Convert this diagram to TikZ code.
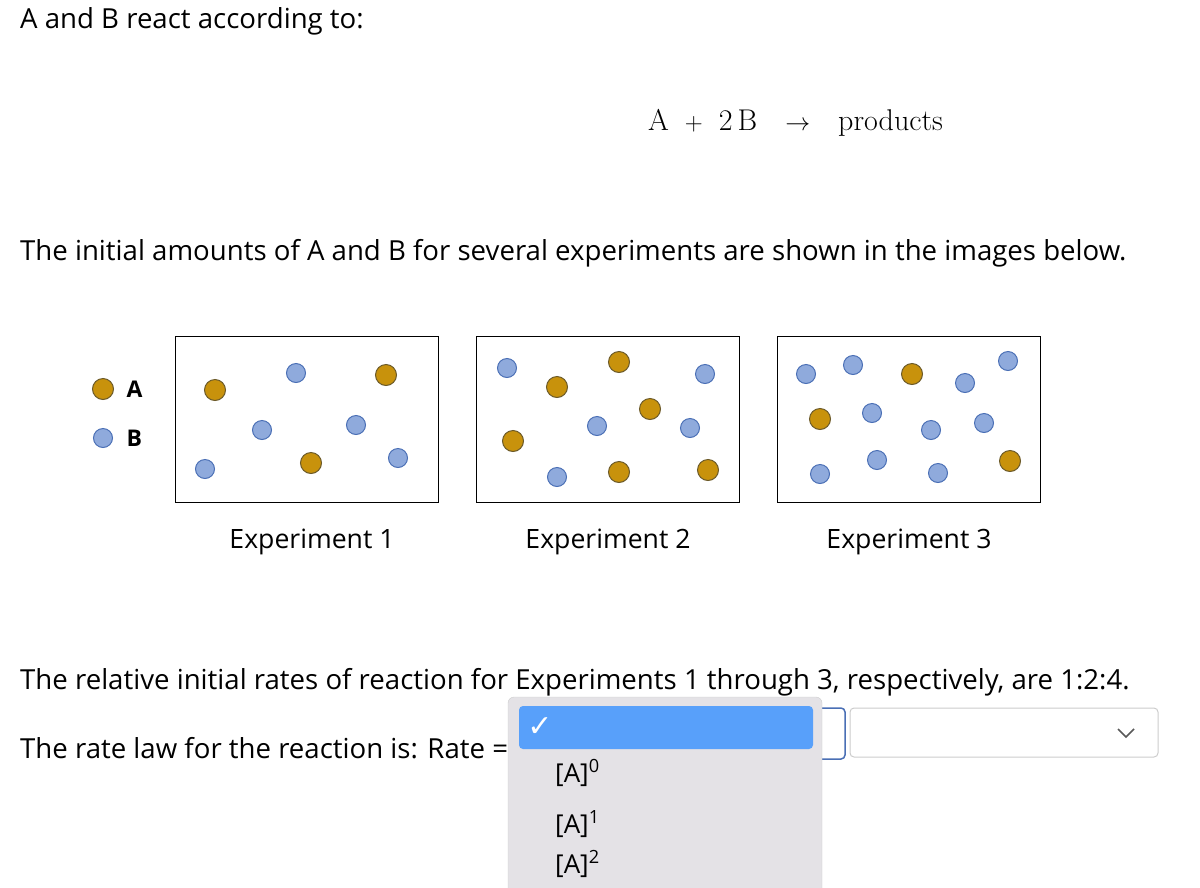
\documentclass[tikz,border=0pt]{standalone}
\usepackage{fontspec}
\setmainfont{Open Sans}
\newfontfamily\lmfont{Latin Modern Roman}
\newfontfamily\symfont{DejaVu Sans}
\definecolor{gold}{HTML}{C8920C}
\definecolor{goldline}{HTML}{6B5A2A}
\definecolor{blueb}{HTML}{8FAADC}
\definecolor{bline}{HTML}{4A6FB5}
\definecolor{menu}{HTML}{E4E2E6}
\definecolor{hl}{HTML}{58A0FA}
\begin{document}
\begin{tikzpicture}[x=1pt,y=-1pt,
  txt/.style={anchor=base west,inner sep=0pt,font=\fontsize{27.6}{32}\selectfont},
  lab/.style={anchor=base,inner sep=0pt,font=\fontsize{26.6}{30}\selectfont},
  itm/.style={anchor=base west,inner sep=0pt,font=\fontsize{26}{30}\selectfont},
  ga/.style={circle,fill=gold,draw=goldline,line width=1pt,minimum size=21pt,inner sep=0pt},
  gb/.style={circle,fill=blueb,draw=bline,line width=1pt,minimum size=19pt,inner sep=0pt},
  box/.style={draw,line width=1pt}]
\useasboundingbox (0,0) rectangle (1200,887);
\node[txt] (t1) at (20,28) {A and B react according to:};
\node[anchor=base west,inner sep=0pt,font=\lmfont\fontsize{30}{34}\selectfont] (eq) at (648,130) {A\hspace{16pt}$+$\hspace{16pt}2\,B\hspace{28pt}$\rightarrow$\hspace{28pt}products};
\node[txt] (t2) at (20,260) {The initial amounts of A and B for several experiments are shown in the images below.};
% legend
\node[ga] (la) at (103,389) {};
\node[anchor=west,font=\bfseries\fontsize{23}{26}\selectfont] (lat) at (123,389) {A};
\node[gb] (lb) at (103,438) {};
\node[anchor=west,font=\bfseries\fontsize{23}{26}\selectfont] (lbt) at (123,438) {B};
% boxes
\draw[box] (175,336) rectangle (438,502);
\draw[box] (476,336) rectangle (739,502);
\draw[box] (777,336) rectangle (1040,502);
\foreach \x/\y [count=\i] in {215/390,386/375,311/463} \node[ga] (a1\i) at (\x,\y) {};
\foreach \x/\y [count=\i] in {296/373,262/430,356/425,205/469,398/458} \node[gb] (b1\i) at (\x,\y) {};
\foreach \x/\y [count=\i] in {619/362,557/387,650/409,513/441,619/472,708/470} \node[ga] (a2\i) at (\x,\y) {};
\foreach \x/\y [count=\i] in {507/368,705/374,597/426,690/428,557/477} \node[gb] (b2\i) at (\x,\y) {};
\foreach \x/\y [count=\i] in {912/374,820/419,1010/461} \node[ga] (a3\i) at (\x,\y) {};
\foreach \x/\y [count=\i] in {806/374,853/365,965/383,1008/361,872/413,931/430,984/423,820/474,877/460,938/473} \node[gb] (b3\i) at (\x,\y) {};
\node[lab] (e1) at (312,548) {Experiment 1};
\node[lab] (e2) at (608,548) {Experiment 2};
\node[lab] (e3) at (909,548) {Experiment 3};
\node[txt] (t3) at (20,689) {The relative initial rates of reaction for Experiments 1 through 3, respectively, are 1:2:4.};
\node[txt] (t4) at (20,758) {The rate law for the reaction is: Rate =};
% second dropdown
\draw[draw=gray!40,line width=1pt,rounded corners=4pt,fill=white] (850,708) rectangle (1158,757);
\draw[gray!70!black,line width=1.5pt] (1118,729) -- (1126,737) -- (1134,729);
% first select (hidden behind menu)
\draw[draw=bline,line width=1.5pt,rounded corners=4pt,fill=white] (700,708) rectangle (845,759);
% menu
\fill[menu,rounded corners=6pt] (508,697) rectangle (822,900);
\draw[gray!40,rounded corners=6pt] (508,697) rectangle (822,900);
\fill[hl,rounded corners=4pt] (519,706) rectangle (813,749);
\node[anchor=center,text=white,font=\symfont\bfseries\fontsize{30}{34}\selectfont] (ck) at (540,727) {✓};
\node[itm] (m0) at (555,782) {[A]\textsuperscript{0}};
\node[itm] (m1) at (555,833) {[A]\textsuperscript{1}};
\node[itm] (m2) at (555,873) {[A]\textsuperscript{2}};
\end{tikzpicture}
\end{document}
